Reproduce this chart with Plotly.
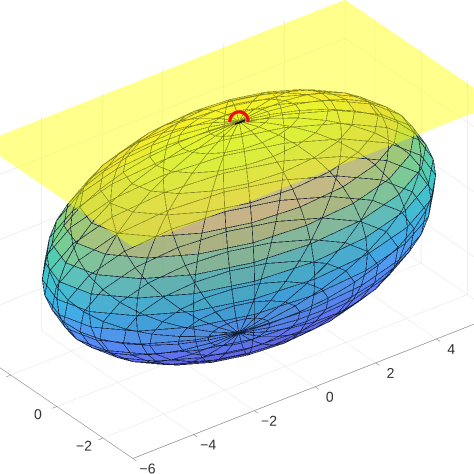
import numpy as np
import plotly.graph_objects as go

x_range = [-6.0, 6.0]
y_range = [-3.3, 3.3]
z_range = [-3.3, 3.3]
semi_axes = [6.0, 3.29, 3.25]
plane_z = 3.19
x_ticks = [-6, -4, -2, 0, 2, 4, 6]
y_ticks = [-2, 0, 2]
z_ticks = [-2, 0, 2]
n_lon = 20
n_lat = 20
ring_radius = 0.24
# Parula colour map, 17 even stops
parula_rgb = [(62, 38, 168), (69, 55, 213), (72, 77, 240), (69, 99, 253), (50, 124, 252), (43, 145, 239),
              (32, 165, 227), (8, 181, 208), (25, 191, 182), (55, 200, 151), (100, 205, 111), (157, 201, 67),
              (209, 191, 39), (248, 186, 61), (252, 207, 48), (245, 233, 36), (249, 251, 21)]

def par(t):
    pos = np.linspace(0, 1, len(parula_rgb))
    return "rgb(%d,%d,%d)" % tuple(np.interp(t, pos, [c[k] for c in parula_rgb]) for k in range(3))


lon = np.linspace(-np.pi, np.pi, n_lon + 1)
lat = np.linspace(-np.pi / 2, np.pi / 2, n_lat + 1)
LON, LAT = np.meshgrid(lon, lat)
X = semi_axes[0] * np.cos(LAT) * np.cos(LON)
Y = semi_axes[1] * np.cos(LAT) * np.sin(LON)
Z = semi_axes[2] * np.sin(LAT)

idx = lambda r, c: r * (n_lon + 1) + c
I, J, K, FC = [], [], [], []
for r in range(n_lat):
    for c in range(n_lon):
        col = par((Z[r, c] + semi_axes[2]) / (2 * semi_axes[2]))
        I += [idx(r, c), idx(r, c)]
        J += [idx(r, c + 1), idx(r + 1, c + 1)]
        K += [idx(r + 1, c + 1), idx(r + 1, c)]
        FC += [col, col]

fig = go.Figure()
fig.add_trace(go.Mesh3d(x=X.ravel(), y=Y.ravel(), z=Z.ravel(), i=I, j=J, k=K, facecolor=FC, opacity=0.6,
                        flatshading=True, hoverinfo="skip",
                        lighting=dict(ambient=1, diffuse=0, specular=0, roughness=1, fresnel=0)))
wx, wy, wz = [], [], []
for r in range(n_lat + 1):
    wx += list(X[r]) + [None]; wy += list(Y[r]) + [None]; wz += list(Z[r]) + [None]
for c in range(n_lon + 1):
    wx += list(X[:, c]) + [None]; wy += list(Y[:, c]) + [None]; wz += list(Z[:, c]) + [None]
fig.add_trace(go.Scatter3d(x=wx, y=wy, z=wz, mode="lines", line=dict(color="rgba(15,25,45,0.9)", width=1.5), hoverinfo="skip"))
fig.add_trace(go.Surface(x=x_range, y=y_range, z=[[plane_z, plane_z], [plane_z, plane_z]],
                         colorscale=[[0, "#ffff00"], [1, "#ffff00"]], showscale=False, opacity=0.45,
                         hoverinfo="skip", lighting=dict(ambient=1, diffuse=0, specular=0, roughness=1, fresnel=0)))
az, el = np.radians(-37.5), np.radians(30)
right = np.array([np.cos(az), np.sin(az)])
back = np.array([-np.sin(az), np.cos(az)])
t = np.linspace(-0.1, np.pi + 0.1, 25)
arc_xy = ring_radius * (np.outer(np.cos(t), right) + 2 * np.outer(np.sin(t), back))
fig.add_trace(go.Scatter3d(x=arc_xy[:, 0], y=arc_xy[:, 1], z=np.full(25, semi_axes[2]),
                           mode="lines", line=dict(color="#e8140c", width=7), hoverinfo="skip"))
fig.add_trace(go.Scatter3d(x=[-0.17, 0.17], y=[-0.05, -0.05], z=[semi_axes[2], semi_axes[2]],
                           mode="lines", line=dict(color="#101010", width=4), hoverinfo="skip"))

axis = dict(showbackground=False, gridcolor="rgba(0,0,0,0.13)", gridwidth=1, zeroline=False, showline=True,
            linecolor="#5a5a5a", linewidth=1, ticks="outside", ticklen=6, tickcolor="#5a5a5a", tickangle=0,
            tickfont=dict(family="Liberation Sans", size=13, color="#333"), title=dict(text=""), showspikes=False)
d = 1.9
zoom = 1.93
fig.update_layout(width=474, height=474, margin=dict(l=0, r=0, t=0, b=0), paper_bgcolor="white", showlegend=False,
                  scene=dict(domain=dict(x=[0, 1], y=[0, 1]), aspectmode="manual",
                             aspectratio=dict(x=zoom, y=0.55 * zoom, z=0.55 * zoom),
                             xaxis=dict(axis, range=x_range, tickvals=x_ticks),
                             yaxis=dict(axis, range=y_range, tickvals=y_ticks),
                             zaxis=dict(axis, range=z_range, tickvals=z_ticks),
                             camera=dict(projection=dict(type="orthographic"),
                                         eye=dict(x=d * np.cos(el) * np.sin(az), y=-d * np.cos(el) * np.cos(az), z=d * np.sin(el)),
                                         center=dict(x=-0.0067, y=0.0051, z=-0.048), up=dict(x=0, y=0, z=1))))
fig.write_html("out.html", config=dict(displayModeBar=False),
               post_script="document.documentElement.style.overflow='hidden';document.body.style.margin='0';")
